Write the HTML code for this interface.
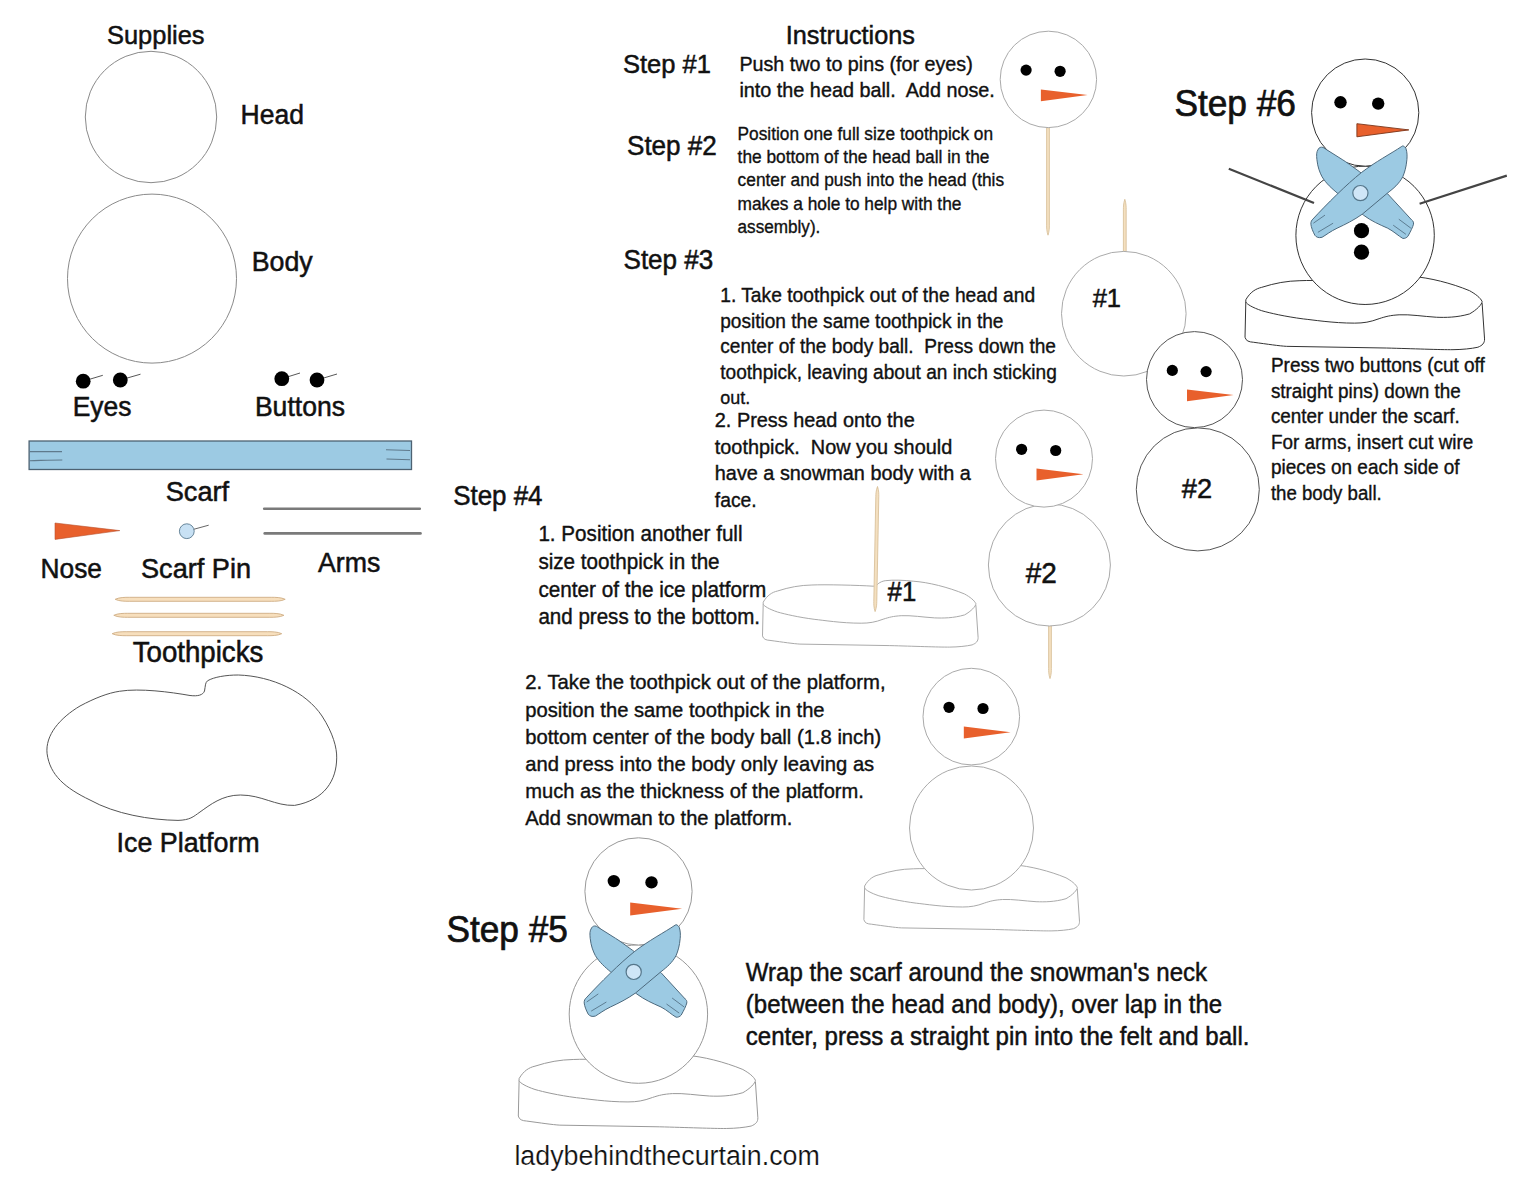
<!DOCTYPE html>
<html><head><meta charset="utf-8"><title>Snowman</title>
<style>
html,body{margin:0;padding:0;background:#fff;width:1536px;height:1187px;overflow:hidden}
svg{display:block}
text{font-family:"Liberation Sans",sans-serif;fill:#111;white-space:pre;stroke:#111;stroke-width:0.35px}
</style></head><body>
<svg width="1536" height="1187" viewBox="0 0 1536 1187">
<circle cx="151" cy="117" r="65.7" fill="none" stroke="#8a8a8a" stroke-width="1"/>
<circle cx="152" cy="278.6" r="84.5" fill="none" stroke="#8a8a8a" stroke-width="1"/>
<line x1="83.2" y1="381.2" x2="102.8" y2="375.3" stroke="#444" stroke-width="0.9"/>
<circle cx="83.2" cy="381.2" r="7.4" fill="#000"/>
<line x1="120.3" y1="380" x2="140.5" y2="374.2" stroke="#444" stroke-width="0.9"/>
<circle cx="120.3" cy="380" r="7.4" fill="#000"/>
<line x1="281.8" y1="378.7" x2="300" y2="373" stroke="#444" stroke-width="0.9"/>
<circle cx="281.8" cy="378.7" r="7.4" fill="#000"/>
<line x1="317" y1="380" x2="337" y2="374" stroke="#444" stroke-width="0.9"/>
<circle cx="317" cy="380" r="7.4" fill="#000"/>
<rect x="29.1" y="441" width="382.4" height="28.5" fill="#9ccae3" stroke="#4d6272" stroke-width="1.3"/>
<path d="M29.6,451.6 L62,451.6 M29.6,460.7 C40,460.5 50,460 62.3,460 M386,449.7 L410,450.5 M386.5,459 L410,459.8" stroke="#5f7a8c" stroke-width="1.1" fill="none"/>
<polygon points="55,523 55,539.4 119.8,530.6" fill="#e8602c" stroke="#b9532f" stroke-width="0.6"/>
<line x1="186.8" y1="531.2" x2="208.7" y2="525.2" stroke="#555" stroke-width="0.9"/>
<circle cx="186.8" cy="531.2" r="7.4" fill="#c8e1f4" stroke="#5a7a90" stroke-width="0.9"/>
<line x1="264.2" y1="508.75" x2="419.8" y2="508.75" stroke="#7a7a7a" stroke-width="2.6" stroke-linecap="round"/>
<line x1="264.7" y1="533.4" x2="420.5" y2="533.4" stroke="#7a7a7a" stroke-width="2.6" stroke-linecap="round"/>
<path d="M115.2,599.3 C119.2,597.3 125.2,597.3 129.2,597.3 L271.2,597.3 C275.2,597.3 281.2,597.3 285.2,599.3 C281.2,601.3 275.2,601.3 271.2,601.3 L129.2,601.3 C125.2,601.3 119.2,601.3 115.2,599.3 Z" fill="#f7dfbd" stroke="#cfae84" stroke-width="0.9"/>
<path d="M113.8,615.3 C117.8,613.3 123.8,613.3 127.8,613.3 L269.9,613.3 C273.9,613.3 279.9,613.3 283.9,615.3 C279.9,617.3 273.9,617.3 269.9,617.3 L127.8,617.3 C123.8,617.3 117.8,617.3 113.8,615.3 Z" fill="#f7dfbd" stroke="#cfae84" stroke-width="0.9"/>
<path d="M112.2,633.7 C116.2,631.7 122.2,631.7 126.2,631.7 L267.7,631.7 C271.7,631.7 277.7,631.7 281.7,633.7 C277.7,635.7 271.7,635.7 267.7,635.7 L126.2,635.7 C122.2,635.7 116.2,635.7 112.2,633.7 Z" fill="#f7dfbd" stroke="#cfae84" stroke-width="0.9"/>
<path d="M47.1,753.75 C45,735 60,718 80,706 C95,698 108,693 119.6,691.25 C140,688 170,692 190,695.5 C198,696.5 203,695 204.5,691 C205.5,686 205,683 207.5,680.8 C214,677 226,675 238.3,675 C272,676 306,692 322,716 C333,733 337,748 336.7,757.9 C336.5,780 325,800 294.6,805.4 C275,806 262,795 240.4,795 C222,795 210,805 200,812 C193,817 190,820 178,820.4 C150,820 115,814 90,800 C65,788 50,775 47.1,753.75 Z" fill="none" stroke="#555" stroke-width="1"/>
<path transform="translate(1048,127.6) skewX(0.000)" d="M-1.4,0 L1.4,0 L1.4,97.6 C1.4,99.6 1.4,103.6 0,107.6 C-1.4,103.6 -1.4,99.6 -1.4,97.6 Z" fill="#f4e0c0" stroke="#d6bc94" stroke-width="0.8"/>
<circle cx="1048.4" cy="79.4" r="48.2" fill="#fff" stroke="#aaa" stroke-width="1"/><circle cx="1026.1" cy="70.1" r="5.6" fill="#000"/><circle cx="1060.1" cy="71.3" r="5.6" fill="#000"/><polygon points="1040.9,89.4 1040.9,101.2 1087.6,95.0" fill="#e8602c" stroke="none" stroke-width="0.9" stroke-linejoin="round"/>
<path transform="translate(1124.8,199.3) skewX(0.000)" d="M0,0 C1.4,4 1.4,8 1.4,10 L1.4,52.69999999999999 L-1.4,52.69999999999999 L-1.4,10 C-1.4,8 -1.4,4 0,0 Z" fill="#f4e0c0" stroke="#d6bc94" stroke-width="0.8"/>
<circle cx="1123.8" cy="313.7" r="62.3" fill="#fff" stroke="#aaa" stroke-width="1"/>
<circle cx="1197.8" cy="489.4" r="61.5" fill="#fff" stroke="#555" stroke-width="1"/>
<circle cx="1194.5" cy="379.6" r="48" fill="#fff" stroke="#555" stroke-width="1"/><circle cx="1172.3" cy="370.4" r="5.6" fill="#000"/><circle cx="1206.1" cy="371.6" r="5.6" fill="#000"/><polygon points="1187.0,389.5 1187.0,401.3 1233.6,395.1" fill="#e8602c" stroke="none" stroke-width="0.9" stroke-linejoin="round"/>
<g transform="translate(763.2,602.2) scale(1.0)" fill="#fff" stroke="#aaa" stroke-width="1.000"><path d="M0,2 L-0.7,33.7 C0,37 3,38 6.8,38.2 C20,40 30,41.5 36.7,41.9 L126.6,43.4 C150,44 175,45 186.5,44.9 C195,44.8 203,44 208.9,42.7 C213,41 215,39 214.9,35.2 L212.7,3 C212.7,6 0,6 0,2 Z"/><path d="M0,0 C4,-7 9,-10 14.3,-11.2 C26,-15 37,-17 48.7,-17.2 C62,-17.8 95,-17 110,-16 C113,-16 114,-17.5 115,-18.5 C117,-20 119,-21 122,-21.5 C130,-22.5 141,-22 150,-21 C165,-20 185,-15 201.4,-8.2 C207,-5 211,-2 212.7,1.5 C212.7,4 208,9 201.4,12.7 C190,16 180,16 171.5,15.7 C160,15 148,13 138,13.5 C130,14 126,15 120,17 C112,20 106,21 98,21 C78,21 60,18 51.7,17.2 C35,15 22,12 14.3,9.8 C6,7 1,4 0,2 Z"/></g>
<path transform="translate(877.5,486.5) skewX(-1.099)" d="M0,0 C1.5,4 1.5,8 1.5,10 L1.5,115.10000000000002 C1.5,117.10000000000002 1.5,121.10000000000002 0,125.10000000000002 C-1.5,121.10000000000002 -1.5,117.10000000000002 -1.5,115.10000000000002 L-1.5,10 C-1.5,8 -1.5,4 0,0 Z" fill="#f4e0c0" stroke="#d6bc94" stroke-width="0.8"/>
<path transform="translate(1050,625) skewX(0.000)" d="M-1.4,0 L1.4,0 L1.4,43.60000000000002 C1.4,45.60000000000002 1.4,49.60000000000002 0,53.60000000000002 C-1.4,49.60000000000002 -1.4,45.60000000000002 -1.4,43.60000000000002 Z" fill="#f4e0c0" stroke="#d6bc94" stroke-width="0.8"/>
<circle cx="1049.4" cy="565" r="61" fill="#fff" stroke="#aaa" stroke-width="1"/>
<circle cx="1044" cy="458.6" r="48.5" fill="#fff" stroke="#aaa" stroke-width="1"/><circle cx="1021.6" cy="449.3" r="5.6" fill="#000"/><circle cx="1055.7" cy="450.5" r="5.6" fill="#000"/><polygon points="1036.5,468.6 1036.5,480.5 1083.5,474.3" fill="#e8602c" stroke="none" stroke-width="0.9" stroke-linejoin="round"/>
<g transform="translate(864.6,886) scale(1.0)" fill="#fff" stroke="#aaa" stroke-width="1.000"><path d="M0,2 L-0.7,33.7 C0,37 3,38 6.8,38.2 C20,40 30,41.5 36.7,41.9 L126.6,43.4 C150,44 175,45 186.5,44.9 C195,44.8 203,44 208.9,42.7 C213,41 215,39 214.9,35.2 L212.7,3 C212.7,6 0,6 0,2 Z"/><path d="M0,0 C4,-7 9,-10 14.3,-11.2 C26,-15 37,-17 48.7,-17.2 C62,-17.8 95,-17 110,-16 C113,-16 114,-17.5 115,-18.5 C117,-20 119,-21 122,-21.5 C130,-22.5 141,-22 150,-21 C165,-20 185,-15 201.4,-8.2 C207,-5 211,-2 212.7,1.5 C212.7,4 208,9 201.4,12.7 C190,16 180,16 171.5,15.7 C160,15 148,13 138,13.5 C130,14 126,15 120,17 C112,20 106,21 98,21 C78,21 60,18 51.7,17.2 C35,15 22,12 14.3,9.8 C6,7 1,4 0,2 Z"/></g>
<circle cx="971.5" cy="828" r="62" fill="#fff" stroke="#aaa" stroke-width="1"/>
<circle cx="971.3" cy="716.6" r="48.3" fill="#fff" stroke="#aaa" stroke-width="1"/><circle cx="949.0" cy="707.3" r="5.6" fill="#000"/><circle cx="983.0" cy="708.5" r="5.6" fill="#000"/><polygon points="963.8,726.6 963.8,738.4 1010.6,732.2" fill="#e8602c" stroke="none" stroke-width="0.9" stroke-linejoin="round"/>
<g transform="translate(519.1,1078.6) scale(1.111)" fill="#fff" stroke="#999" stroke-width="0.900"><path d="M0,2 L-0.7,33.7 C0,37 3,38 6.8,38.2 C20,40 30,41.5 36.7,41.9 L126.6,43.4 C150,44 175,45 186.5,44.9 C195,44.8 203,44 208.9,42.7 C213,41 215,39 214.9,35.2 L212.7,3 C212.7,6 0,6 0,2 Z"/><path d="M0,0 C4,-7 9,-10 14.3,-11.2 C26,-15 37,-17 48.7,-17.2 C62,-17.8 95,-17 110,-16 C113,-16 114,-17.5 115,-18.5 C117,-20 119,-21 122,-21.5 C130,-22.5 141,-22 150,-21 C165,-20 185,-15 201.4,-8.2 C207,-5 211,-2 212.7,1.5 C212.7,4 208,9 201.4,12.7 C190,16 180,16 171.5,15.7 C160,15 148,13 138,13.5 C130,14 126,15 120,17 C112,20 106,21 98,21 C78,21 60,18 51.7,17.2 C35,15 22,12 14.3,9.8 C6,7 1,4 0,2 Z"/></g><circle cx="638.4" cy="1014.1" r="69.2" fill="#fff" stroke="#999" stroke-width="1"/><circle cx="638.5" cy="891.4" r="53.6" fill="#fff" stroke="#999" stroke-width="1"/><circle cx="613.8" cy="881.1" r="6.2" fill="#000"/><circle cx="651.5" cy="882.4" r="6.2" fill="#000"/><polygon points="630.2,902.5 630.2,915.6 682.1,908.7" fill="#e8602c" stroke="none" stroke-width="0.9" stroke-linejoin="round"/>
<path d="M591.7,927.7 C589.5,931 589.8,934 590.2,938.3 C591,946 593,951 595.3,955.5 C600,963 605,967 610.4,971.7 L636.7,993.9 C645,1000 652,1003 661,1007 C667,1010 672,1015 676.1,1017.2 C678,1017.5 680,1016.5 681.2,1015.1 C684,1010 686,1006 686.8,1003 C687,1001 686.5,1000 685.2,999 L661,972.7 L632.7,950.4 C625,945 620,941 615.5,938.3 L596.3,926.2 C594,925.5 592.5,926.5 591.7,927.7 Z" fill="#9ccae3" stroke="#4d6a7e" stroke-width="1"/><path d="M676.1,924.7 C677.5,925 678.5,926 679.2,927.2 C680.5,931 680.5,935 680.2,938.3 C679.5,946 678,951 676.1,955.5 C672,963 667,967 661,971.7 L635.7,992.9 C627,999 619,1003 610.4,1007 C604,1010 599,1014 595.3,1016.1 C592,1017 589.5,1016 588.2,1014.1 C586,1010 584.5,1006 584.2,1003 C584,1000.5 585,999 586.2,997.9 C600,983 620,963 634.7,951.4 C648,941 665,932 675.1,925.2 Z" fill="#9ccae3" stroke="#4d6a7e" stroke-width="1"/><circle cx="633.7" cy="971.9" r="7.6" fill="#cfe6f7" stroke="#55768a" stroke-width="1.2"/><path d="M586.7,1002 L598.3,993.9 M591.2,1011.1 L606.4,1002 M672.1,998 L684.2,1007 M666.5,1004 L679.2,1013.1" stroke="#5d7d92" stroke-width="1" fill="none"/>
<g transform="translate(726.7,-778.8)">
<g transform="translate(519.1,1078.6) scale(1.111)" fill="#fff" stroke="#333" stroke-width="0.900"><path d="M0,2 L-0.7,33.7 C0,37 3,38 6.8,38.2 C20,40 30,41.5 36.7,41.9 L126.6,43.4 C150,44 175,45 186.5,44.9 C195,44.8 203,44 208.9,42.7 C213,41 215,39 214.9,35.2 L212.7,3 C212.7,6 0,6 0,2 Z"/><path d="M0,0 C4,-7 9,-10 14.3,-11.2 C26,-15 37,-17 48.7,-17.2 C62,-17.8 95,-17 110,-16 C113,-16 114,-17.5 115,-18.5 C117,-20 119,-21 122,-21.5 C130,-22.5 141,-22 150,-21 C165,-20 185,-15 201.4,-8.2 C207,-5 211,-2 212.7,1.5 C212.7,4 208,9 201.4,12.7 C190,16 180,16 171.5,15.7 C160,15 148,13 138,13.5 C130,14 126,15 120,17 C112,20 106,21 98,21 C78,21 60,18 51.7,17.2 C35,15 22,12 14.3,9.8 C6,7 1,4 0,2 Z"/></g><circle cx="638.4" cy="1014.1" r="69.2" fill="#fff" stroke="#333" stroke-width="1"/><circle cx="638.5" cy="891.4" r="53.6" fill="#fff" stroke="#333" stroke-width="1"/><circle cx="613.8" cy="881.1" r="6.2" fill="#000"/><circle cx="651.5" cy="882.4" r="6.2" fill="#000"/><polygon points="630.2,902.5 630.2,915.6 682.1,908.7" fill="#e8602c" stroke="#7a3418" stroke-width="0.9" stroke-linejoin="round"/>
<circle cx="634.8" cy="1009.5" r="7.6" fill="#000"/><circle cx="634.8" cy="1031" r="7.6" fill="#000"/>
<path d="M591.7,927.7 C589.5,931 589.8,934 590.2,938.3 C591,946 593,951 595.3,955.5 C600,963 605,967 610.4,971.7 L636.7,993.9 C645,1000 652,1003 661,1007 C667,1010 672,1015 676.1,1017.2 C678,1017.5 680,1016.5 681.2,1015.1 C684,1010 686,1006 686.8,1003 C687,1001 686.5,1000 685.2,999 L661,972.7 L632.7,950.4 C625,945 620,941 615.5,938.3 L596.3,926.2 C594,925.5 592.5,926.5 591.7,927.7 Z" fill="#9ccae3" stroke="#4d6a7e" stroke-width="1"/><path d="M676.1,924.7 C677.5,925 678.5,926 679.2,927.2 C680.5,931 680.5,935 680.2,938.3 C679.5,946 678,951 676.1,955.5 C672,963 667,967 661,971.7 L635.7,992.9 C627,999 619,1003 610.4,1007 C604,1010 599,1014 595.3,1016.1 C592,1017 589.5,1016 588.2,1014.1 C586,1010 584.5,1006 584.2,1003 C584,1000.5 585,999 586.2,997.9 C600,983 620,963 634.7,951.4 C648,941 665,932 675.1,925.2 Z" fill="#9ccae3" stroke="#4d6a7e" stroke-width="1"/><circle cx="633.7" cy="971.9" r="7.6" fill="#cfe6f7" stroke="#55768a" stroke-width="1.2"/><path d="M586.7,1002 L598.3,993.9 M591.2,1011.1 L606.4,1002 M672.1,998 L684.2,1007 M666.5,1004 L679.2,1013.1" stroke="#5d7d92" stroke-width="1" fill="none"/>
</g>
<line x1="1228.8" y1="168.8" x2="1314" y2="202.9" stroke="#444" stroke-width="2.2"/>
<line x1="1506.8" y1="175.6" x2="1419.6" y2="203.7" stroke="#444" stroke-width="2.2"/>
<text transform="translate(107.0,44.0) scale(1,1.04)" font-size="25.45" style="stroke-width:0.48px">Supplies</text>
<text transform="translate(240.6,124.1) scale(1,1.04)" font-size="26.53" style="stroke-width:0.50px">Head</text>
<text transform="translate(251.7,270.8) scale(1,1.04)" font-size="26.80" style="stroke-width:0.51px">Body</text>
<text transform="translate(72.7,415.5) scale(1,1.04)" font-size="26.47" style="stroke-width:0.50px">Eyes</text>
<text transform="translate(254.9,415.6) scale(1,1.04)" font-size="26.58" style="stroke-width:0.50px">Buttons</text>
<text transform="translate(165.7,501.1) scale(1,1.04)" font-size="27.19" style="stroke-width:0.52px">Scarf</text>
<text transform="translate(40.5,578.3) scale(1,1.04)" font-size="26.34" style="stroke-width:0.50px">Nose</text>
<text transform="translate(141.0,577.6) scale(1,1.04)" font-size="27.13" style="stroke-width:0.52px">Scarf Pin</text>
<text transform="translate(318.0,572.2) scale(1,1.04)" font-size="26.72" style="stroke-width:0.51px">Arms</text>
<text transform="translate(132.7,661.6) scale(1,1.04)" font-size="27.66" style="stroke-width:0.53px">Toothpicks</text>
<text transform="translate(116.5,852.3) scale(1,1.04)" font-size="26.86" style="stroke-width:0.51px">Ice Platform</text>
<text transform="translate(785.8,43.6) scale(1,1.04)" font-size="25.26" style="stroke-width:0.48px">Instructions</text>
<text transform="translate(623.0,73.1) scale(1,1.04)" font-size="25.54" style="stroke-width:0.49px">Step #1</text>
<text transform="translate(739.4,71.0) scale(1,1.04)" font-size="19.73" style="stroke-width:0.37px">Push two to pins (for eyes)</text>
<text transform="translate(739.4,97.3) scale(1,1.04)" font-size="19.81" style="stroke-width:0.38px">into the head ball.  Add nose.</text>
<text transform="translate(627.0,154.6) scale(1,1.04)" font-size="26.07" style="stroke-width:0.50px">Step #2</text>
<text transform="translate(737.6,140.0) scale(1,1.04)" font-size="17.29" style="stroke-width:0.33px">Position one full size toothpick on</text>
<text transform="translate(737.6,162.9) scale(1,1.04)" font-size="17.31" style="stroke-width:0.33px">the bottom of the head ball in the</text>
<text transform="translate(737.6,186.4) scale(1,1.04)" font-size="17.33" style="stroke-width:0.33px">center and push into the head (this</text>
<text transform="translate(737.6,209.8) scale(1,1.04)" font-size="17.30" style="stroke-width:0.33px">makes a hole to help with the</text>
<text transform="translate(737.6,233.3) scale(1,1.04)" font-size="17.13" style="stroke-width:0.33px">assembly).</text>
<text transform="translate(623.5,269.1) scale(1,1.04)" font-size="26.07" style="stroke-width:0.50px">Step #3</text>
<text transform="translate(720.2,302.0) scale(1,1.04)" font-size="19.23" style="stroke-width:0.37px">1. Take toothpick out of the head and</text>
<text transform="translate(720.2,327.5) scale(1,1.04)" font-size="19.10" style="stroke-width:0.36px">position the same toothpick in the</text>
<text transform="translate(720.2,352.9) scale(1,1.04)" font-size="19.13" style="stroke-width:0.36px">center of the body ball.  Press down the</text>
<text transform="translate(720.2,379.0) scale(1,1.04)" font-size="19.11" style="stroke-width:0.36px">toothpick, leaving about an inch sticking</text>
<text transform="translate(720.2,403.8) scale(1,1.04)" font-size="17.96" style="stroke-width:0.34px">out.</text>
<text transform="translate(714.8,426.9) scale(1,1.04)" font-size="19.88" style="stroke-width:0.38px">2. Press head onto the</text>
<text transform="translate(714.8,453.8) scale(1,1.04)" font-size="19.87" style="stroke-width:0.38px">toothpick.  Now you should</text>
<text transform="translate(714.8,480.2) scale(1,1.04)" font-size="19.85" style="stroke-width:0.38px">have a snowman body with a</text>
<text transform="translate(714.8,506.6) scale(1,1.04)" font-size="19.31" style="stroke-width:0.37px">face.</text>
<text transform="translate(1092.7,307.4) scale(1,1.04)" font-size="25.50" style="stroke-width:0.48px">#1</text>
<text transform="translate(1181.8,497.5) scale(1,1.04)" font-size="27.21" style="stroke-width:0.52px">#2</text>
<text transform="translate(453.2,504.8) scale(1,1.04)" font-size="25.92" style="stroke-width:0.49px">Step #4</text>
<text transform="translate(538.4,540.8) scale(1,1.04)" font-size="20.64" style="stroke-width:0.39px">1. Position another full</text>
<text transform="translate(538.4,568.6) scale(1,1.04)" font-size="20.65" style="stroke-width:0.39px">size toothpick in the</text>
<text transform="translate(538.4,596.6) scale(1,1.04)" font-size="20.71" style="stroke-width:0.39px">center of the ice platform</text>
<text transform="translate(538.4,623.7) scale(1,1.04)" font-size="20.56" style="stroke-width:0.39px">and press to the bottom.</text>
<text transform="translate(887.6,601.0) scale(1,1.04)" font-size="25.77" style="stroke-width:0.49px">#1</text>
<text transform="translate(1025.7,582.6) scale(1,1.04)" font-size="27.93" style="stroke-width:0.53px">#2</text>
<text transform="translate(525.2,689.0) scale(1,1.04)" font-size="20.29" style="stroke-width:0.39px">2. Take the toothpick out of the platform,</text>
<text transform="translate(525.2,716.5) scale(1,1.04)" font-size="20.19" style="stroke-width:0.38px">position the same toothpick in the</text>
<text transform="translate(525.2,743.9) scale(1,1.04)" font-size="20.21" style="stroke-width:0.38px">bottom center of the body ball (1.8 inch)</text>
<text transform="translate(525.2,771.1) scale(1,1.04)" font-size="20.20" style="stroke-width:0.38px">and press into the body only leaving as</text>
<text transform="translate(525.2,798.2) scale(1,1.04)" font-size="20.13" style="stroke-width:0.38px">much as the thickness of the platform.</text>
<text transform="translate(525.2,825.1) scale(1,1.04)" font-size="20.13" style="stroke-width:0.38px">Add snowman to the platform.</text>
<text transform="translate(446.5,941.6) scale(1,1.04)" font-size="35.24" style="stroke-width:0.67px">Step #5</text>
<text transform="translate(745.8,980.5) scale(1,1.04)" font-size="24.06" style="stroke-width:0.46px">Wrap the scarf around the snowman&#39;s neck</text>
<text transform="translate(745.8,1013.2) scale(1,1.04)" font-size="24.01" style="stroke-width:0.46px">(between the head and body), over lap in the</text>
<text transform="translate(745.8,1044.8) scale(1,1.04)" font-size="24.05" style="stroke-width:0.46px">center, press a straight pin into the felt and ball.</text>
<text transform="translate(1174.4,115.8) scale(1,1.04)" font-size="35.27" style="stroke-width:0.67px">Step #6</text>
<text transform="translate(1270.9,372.2) scale(1,1.04)" font-size="19.01" style="stroke-width:0.36px">Press two buttons (cut off</text>
<text transform="translate(1270.9,397.6) scale(1,1.04)" font-size="18.88" style="stroke-width:0.36px">straight pins) down the</text>
<text transform="translate(1270.9,423.3) scale(1,1.04)" font-size="18.87" style="stroke-width:0.36px">center under the scarf.</text>
<text transform="translate(1270.9,448.7) scale(1,1.04)" font-size="18.87" style="stroke-width:0.36px">For arms, insert cut wire</text>
<text transform="translate(1270.9,474.0) scale(1,1.04)" font-size="18.97" style="stroke-width:0.36px">pieces on each side of</text>
<text transform="translate(1270.9,499.5) scale(1,1.04)" font-size="18.66" style="stroke-width:0.35px">the body ball.</text>
<text x="514.4" y="1165.4" font-size="26.80" style="fill:#111;stroke:#fff;stroke-width:0.2px;letter-spacing:0">ladybehindthecurtain.com</text>
</svg>
</body></html>
